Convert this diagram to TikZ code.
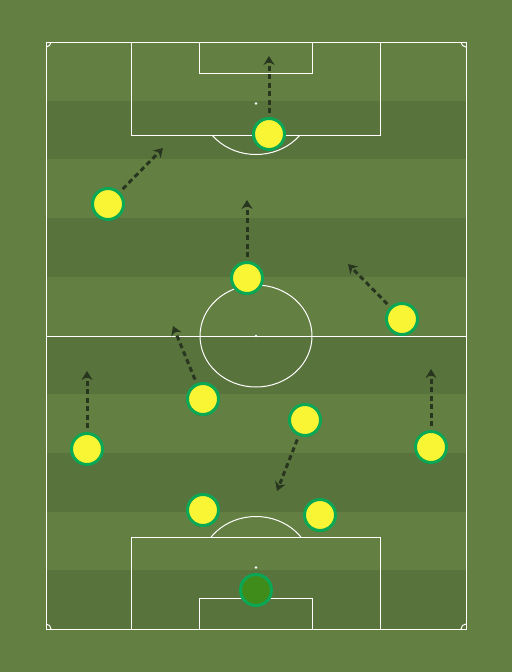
\documentclass[tikz,border=0pt]{standalone}
\usepackage{tikz}
\usetikzlibrary{arrows.meta}
\usetikzlibrary{shadows}
\definecolor{grassLight}{RGB}{99,128,66}
\definecolor{grassDark}{RGB}{89,115,61}
\definecolor{shirt}{RGB}{249,245,52}
\definecolor{trim}{RGB}{10,168,84}
\definecolor{keeper}{RGB}{64,140,26}
\definecolor{run}{RGB}{40,54,32}

\begin{document}
\begin{tikzpicture}[x=1pt,y=-1pt,
    line/.style={draw=white,line width=1pt},
    player/.style={circle,draw=trim,line width=3pt,fill=shirt,minimum size=31pt,inner sep=0pt,
        drop shadow={shadow xshift=0pt,shadow yshift=-1.5pt,opacity=0.35,fill=black}},
    goalie/.style={player,fill=keeper},
    runarrow/.style={draw=run,line width=3pt,dash pattern=on 5pt off 3.5pt,shorten <=4pt,
        -{Stealth[length=9pt,width=11pt,inset=3pt]}}]
    \useasboundingbox (0,0) rectangle (512,672);
    \fill[grassLight] (0,0) rectangle (512,672);

    % draw stripes
    \foreach \i in {1,3,5,7,9}
        \fill[grassDark] (46,{42+\i*58.7}) rectangle (466,{42+(\i+1)*58.7});

    % draw pitch lines
    \draw[line] (46,42) rectangle (466,629);
    \draw[line] (46,336) -- (466,336);
    \draw[line] (256,336) ellipse [x radius=56pt,y radius=51pt];
    \fill[white] (256,336) circle (1.3pt);

    % top penalty area
    \draw[line] (131,42) -- (131,135) -- (380,135) -- (380,42);
    \draw[line] (199,42) -- (199,73) -- (312,73) -- (312,42);
    \fill[white] (256,103.5) circle (1.3pt);
    \begin{scope}
        \clip (150,135) rectangle (360,200);
        \draw[line] (256,103.5) ellipse [x radius=56pt,y radius=51pt];
    \end{scope}

    % bottom penalty area
    \draw[line] (131,629) -- (131,537) -- (380,537) -- (380,629);
    \draw[line] (199,629) -- (199,598) -- (312,598) -- (312,629);
    \fill[white] (256,567.5) circle (1.3pt);
    \begin{scope}
        \clip (150,470) rectangle (360,537);
        \draw[line] (256,567.5) ellipse [x radius=56pt,y radius=51pt];
    \end{scope}

    % corner arcs
    \begin{scope}
        \clip (46,42) rectangle (466,629);
        \foreach \x/\y in {46/42,466/42,46/629,466/629}
            \draw[line] (\x,\y) circle (5pt);
    \end{scope}

    % draw players
    \node[goalie] (gk)  at (256,590) {};
    \node[player] (cbl) at (203,510) {};
    \node[player] (cbr) at (320,515) {};
    \node[player] (fbl) at (87,449) {};
    \node[player] (fbr) at (431,447) {};
    \node[player] (cml) at (203,399) {};
    \node[player] (cmr) at (305,420) {};
    \node[player] (cam) at (247,278) {};
    \node[player] (wl)  at (108,204) {};
    \node[player] (wr)  at (402,319) {};
    \node[player] (st)  at (269,134) {};

    % draw runs
    \coordinate (stTo)  at (269,56);
    \coordinate (wlTo)  at (163,148);
    \coordinate (camTo) at (247,200);
    \coordinate (wrTo)  at (348,264);
    \coordinate (cmlTo) at (173,326);
    \coordinate (fblTo) at (87,371);
    \coordinate (cmrTo) at (277,491);
    \coordinate (fbrTo) at (431,369);
    \draw[runarrow] (st) -- (stTo);
    \draw[runarrow] (wl) -- (wlTo);
    \draw[runarrow] (cam) -- (camTo);
    \draw[runarrow] (wr) -- (wrTo);
    \draw[runarrow] (cml) -- (cmlTo);
    \draw[runarrow] (fbl) -- (fblTo);
    \draw[runarrow] (cmr) -- (cmrTo);
    \draw[runarrow] (fbr) -- (fbrTo);
\end{tikzpicture}
\end{document}
